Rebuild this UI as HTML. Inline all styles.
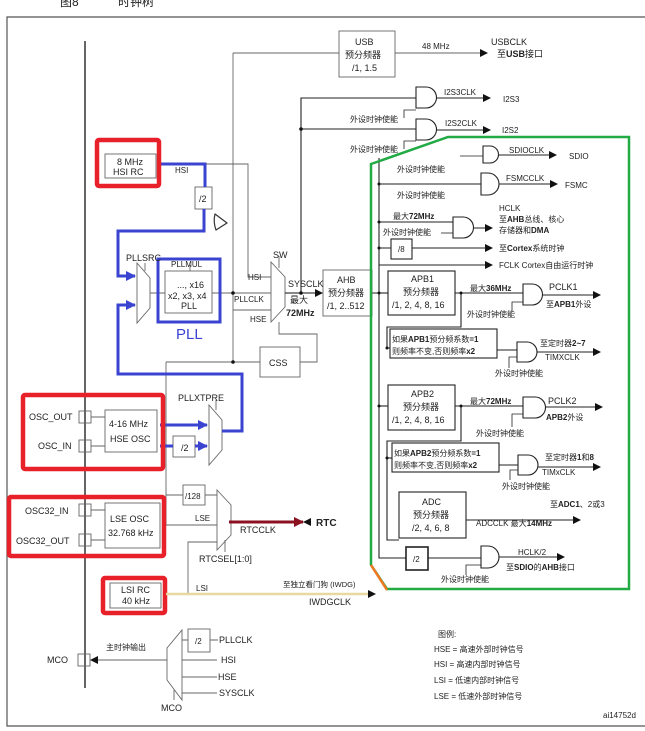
<!DOCTYPE html>
<html><head><meta charset="utf-8"><style>
html,body{margin:0;padding:0;background:#fff;width:645px;height:731px;overflow:hidden}
svg{display:block}
text{font-family:"Liberation Sans","Noto Sans CJK SC",sans-serif;font-size:9px;fill:#222}
.b{font-weight:bold}
</style></head><body>
<svg width="645" height="731" viewBox="0 0 645 731" xmlns="http://www.w3.org/2000/svg">
<defs>
<marker id="a" markerWidth="8" markerHeight="8" refX="7" refY="4" orient="auto" markerUnits="userSpaceOnUse"><path d="M0,0L8,4L0,8Z" fill="#111"/></marker>
<marker id="ab" markerWidth="10" markerHeight="10" refX="9" refY="5" orient="auto" markerUnits="userSpaceOnUse"><path d="M0,0L10,5L0,10Z" fill="#3a44d0"/></marker>
<marker id="ar" markerWidth="10" markerHeight="10" refX="9" refY="5" orient="auto" markerUnits="userSpaceOnUse"><path d="M0,0L10,5L0,10Z" fill="#8b1020"/></marker>
</defs>
<text x="60" y="6" style="font-size:12px">图8</text><text x="118" y="6" style="font-size:12px">时钟树</text>
<path d="M648,17H7V726H648" fill="none" stroke="#555" stroke-width="1.2"/>
<line x1="85" y1="41" x2="85" y2="688" stroke="#333" stroke-width="1.5"/>
<g fill="none" stroke="#666" stroke-width="0.9">
<path d="M205,164H248V277H271"/>
<path d="M233,53H339M233,53V362M212,293H271M150,293H165M233,310H271M166,362H260M166,362V525"/>
<path d="M279,322V334H317V362H300"/>
<rect x="260" y="347" width="40" height="30"/>
<path d="M271,262L285,277V307L271,322Z"/>
<line x1="279" y1="256" x2="279" y2="268"/>
<path d="M137,263L150,278V308L137,323Z"/>
<line x1="145" y1="263" x2="145" y2="271"/>
<rect x="165" y="271" width="47" height="42"/>
<line x1="190" y1="265" x2="190" y2="271"/>
<rect x="105" y="154" width="51" height="24"/>
<rect x="195" y="187" width="17" height="22"/>
<rect x="323" y="270" width="49" height="46"/>
<rect x="339" y="31" width="56" height="46"/>
<path d="M285,293H322" marker-end="url(#a)" stroke="#111"/>
<path d="M395,53H487" marker-end="url(#a)"/>
<rect x="105" y="410" width="52" height="42"/>
<rect x="79" y="411" width="12" height="12"/><rect x="79" y="440" width="12" height="12"/>
<path d="M91,417H105M91,446H105"/>
<rect x="173" y="436" width="22" height="21"/>
<path d="M209,405L222,420V450L209,465Z"/>
<line x1="216" y1="400" x2="216" y2="410"/>
<rect x="105" y="503" width="55" height="45"/>
<rect x="79" y="504" width="12" height="12"/><rect x="79" y="534" width="12" height="12"/>
<path d="M91,510H105M91,540H105"/>
<rect x="183" y="485" width="22" height="20"/>
<path d="M166,495H183M205,495H217M166,525H217M188,594V542H217"/>
<path d="M217,490L231,505V535L217,550Z"/>
<line x1="225" y1="540" x2="225" y2="552"/>
<rect x="110" y="583" width="51" height="25"/>
<rect x="78" y="654" width="12" height="12"/>
<path d="M167,660H91" marker-end="url(#a)"/>
<path d="M182,630V700L167,680V648Z"/>
<line x1="174" y1="690" x2="174" y2="700"/>
<rect x="188" y="629" width="22" height="23"/>
<path d="M182,640H188M210,640H218M182,660H217M182,677H217M182,693H217"/>
</g>
<g fill="none" stroke="#222" stroke-width="1.1">
<path d="M301,293V98H416M301,129H416"/>
<path d="M436,98H490" marker-end="url(#a)"/><path d="M436,130H490" marker-end="url(#a)"/>
<path d="M416,87h10a10.5,10.5 0 0 1 0,21h-10z"/>
<path d="M416,119h10a10.5,10.5 0 0 1 0,21h-10z"/>
<path d="M404,118V110H416M404,149V141H416" stroke-width="0.8"/>
<path d="M372,293H379M379,158V558H406"/>
<path d="M460,156H483" stroke-width="0.8"/>
<path d="M483,146h7a8.5,8.5 0 0 1 0,17h-7z"/>
<path d="M499,155H556" marker-end="url(#a)"/>
<path d="M379,184H481"/>
<path d="M481,173h7a11,11 0 0 1 0,22h-7z"/>
<path d="M499,184H557" marker-end="url(#a)"/>
<path d="M379,222H453"/>
<path d="M453,217h10a10.5,10.5 0 0 1 0,21h-10z"/>
<path d="M441,233H453" stroke-width="0.8"/>
<path d="M473,228H492" marker-end="url(#a)"/>
<path d="M379,248H391M412,248H492" marker-end="url(#a)"/>
<rect x="391" y="239" width="21" height="20"/>
<path d="M379,265H492" marker-end="url(#a)"/>
<path d="M379,293H388"/>
<rect x="388" y="271" width="67" height="44"/>
<path d="M455,293H523M461,293V327H387V348H390"/>
<path d="M523,284h9a10.5,10.5 0 0 1 0,21h-9z"/>
<path d="M512,311V302H523" stroke-width="0.8"/>
<path d="M542,295H600" marker-end="url(#a)"/>
<rect x="390" y="329" width="107" height="29"/>
<path d="M497,350H517"/>
<path d="M517,342h10a10,10 0 0 1 0,20h-10z"/>
<path d="M509,368V357H517" stroke-width="0.8"/>
<path d="M537,352H600" marker-end="url(#a)"/>
<path d="M379,406H388"/>
<rect x="388" y="385" width="67" height="45"/>
<path d="M455,406H523M461,406V441H387V540H399"/>
<path d="M523,397h12a10.5,10.5 0 0 1 0,21h-12z"/>
<path d="M512,427V414H523" stroke-width="0.8"/>
<path d="M546,407H602" marker-end="url(#a)"/>
<path d="M387,458H392"/>
<rect x="392" y="443" width="107" height="29"/>
<path d="M499,465H518"/>
<path d="M518,455h10a10,10 0 0 1 0,20h-10z"/>
<path d="M510,480V470H518" stroke-width="0.8"/>
<path d="M538,467H600" marker-end="url(#a)"/>
<rect x="399" y="492" width="67" height="46"/>
<path d="M466,520H580" marker-end="url(#a)"/>
<rect x="406" y="547" width="22" height="23" stroke-width="1.6"/>
<path d="M428,558H481"/>
<path d="M481,546h7a11,11 0 0 1 0,22h-7z"/>
<path d="M466,575V565H481" stroke-width="0.8"/>
<path d="M499,557H564" marker-end="url(#a)"/>
</g>
<g fill="#111">
<circle cx="233" cy="293" r="1.8"/><circle cx="233" cy="362" r="1.8"/><circle cx="301" cy="293" r="1.8"/><circle cx="301" cy="129" r="1.8"/>
<circle cx="379" cy="184" r="1.5"/><circle cx="379" cy="222" r="1.5"/><circle cx="379" cy="248" r="1.5"/><circle cx="379" cy="293" r="1.5"/><circle cx="379" cy="406" r="1.5"/><circle cx="461" cy="293" r="1.5"/><circle cx="461" cy="406" r="1.5"/><circle cx="387" cy="348" r="1.5"/><circle cx="387" cy="458" r="1.5"/>
</g>
<g fill="none" stroke="#3a44d0" stroke-width="3">
<path d="M159,164H205V187"/>
<path d="M204,209V231H118V276H135" marker-end="url(#ab)"/>
<path d="M222,431H242V374H118V305H135" marker-end="url(#ab)"/>
<path d="M160,425H207" marker-end="url(#ab)"/>
<path d="M160,446H173M195,446H207" marker-end="url(#ab)"/>
<rect x="158" y="259" width="62" height="63"/>
</g>
<g fill="none" stroke="#e8202a" stroke-width="4.5">
<rect x="97" y="140" width="62" height="46" rx="2"/>
<rect x="23" y="395" width="140" height="74" rx="2"/>
<rect x="9" y="497" width="155" height="59" rx="2"/>
<rect x="103" y="578" width="62" height="35" rx="2"/>
</g>
<path d="M371,164L448,137H629V589H387L371,565Z" fill="none" stroke="#22aa44" stroke-width="2.5"/>
<line x1="371" y1="565" x2="387" y2="590" stroke="#f07820" stroke-width="2.5"/>
<path d="M229,522H303" stroke="#8b1020" stroke-width="3" marker-end="url(#ar)"/>
<path d="M303,522l8,-4v8z" fill="#111"/>
<path d="M166,594H373" stroke="#e8d8a0" stroke-width="2.5"/>
<path d="M368,590l8,4l-8,4z" fill="#111"/>
<path d="M215,214L227,223L216,230Q213,222 215,214Z" fill="#fff" stroke="#333" stroke-width="1.2" stroke-linejoin="round"/>
<text x="117" y="165">8 MHz</text><text x="113" y="175">HSI RC</text>
<text x="175" y="173" style="font-size:8px">HSI</text>
<text x="199" y="202">/2</text>
<text x="126" y="261">PLLSRC</text>
<text x="171" y="267" style="font-size:8px">PLLMUL</text>
<text x="177" y="288">..., x16</text><text x="168" y="299">x2, x3, x4</text><text x="181" y="309">PLL</text>
<text x="176" y="339" style="font-size:15px;fill:#3a44d0">PLL</text>
<text x="248" y="280" style="font-size:8px">HSI</text>
<text x="234" y="302" style="font-size:8px">PLLCLK</text>
<text x="250" y="322" style="font-size:8px">HSE</text>
<text x="273" y="258">SW</text>
<text x="288" y="287">SYSCLK</text>
<text x="290" y="303">最大</text><text x="286" y="316" class="b">72MHz</text>
<text x="337" y="283">AHB</text><text x="328" y="296">预分频器</text><text x="327" y="309">/1, 2..512</text>
<text x="269" y="366">CSS</text>
<text x="355" y="45">USB</text><text x="345" y="58">预分频器</text><text x="352" y="71">/1, 1.5</text>
<text x="422" y="49" style="font-size:8px">48 MHz</text>
<text x="491" y="45">USBCLK</text><text x="497" y="57">至<tspan class="b">USB</tspan>接口</text>
<text x="444" y="95" style="font-size:8px">I2S3CLK</text><text x="503" y="102" style="font-size:8px">I2S3</text>
<text x="350" y="122" style="font-size:8px">外设时钟使能</text>
<text x="445" y="126" style="font-size:8px">I2S2CLK</text><text x="502" y="133" style="font-size:8px">I2S2</text>
<text x="350" y="152" style="font-size:8px">外设时钟使能</text>
<text x="509" y="153" style="font-size:8px">SDIOCLK</text><text x="569" y="159" style="font-size:8px">SDIO</text>
<text x="397" y="172" style="font-size:8px">外设时钟使能</text>
<text x="506" y="181" style="font-size:8px">FSMCCLK</text><text x="565" y="188" style="font-size:8px">FSMC</text>
<text x="397" y="198" style="font-size:8px">外设时钟使能</text>
<text x="393" y="219" style="font-size:8px">最大<tspan class="b">72MHz</tspan></text>
<text x="383" y="235" style="font-size:8px">外设时钟使能</text>
<text x="499" y="211" style="font-size:8px">HCLK</text><text x="499" y="222" style="font-size:8px">至<tspan class="b">AHB</tspan>总线、核心</text><text x="499" y="233" style="font-size:8px">存储器和<tspan class="b">DMA</tspan></text>
<text x="398" y="252" style="font-size:8px">/8</text>
<text x="499" y="251" style="font-size:8px">至<tspan class="b">Cortex</tspan>系统时钟</text>
<text x="499" y="268" style="font-size:8px">FCLK Cortex自由运行时钟</text>
<text x="411" y="282">APB1</text><text x="403" y="295">预分频器</text><text x="392" y="308">/1, 2, 4, 8, 16</text>
<text x="470" y="291" style="font-size:8px">最大<tspan class="b">36MHz</tspan></text>
<text x="549" y="290">PCLK1</text><text x="546" y="307" style="font-size:8px">至<tspan class="b">APB1</tspan>外设</text>
<text x="467" y="317" style="font-size:8px">外设时钟使能</text>
<text x="392" y="342" style="font-size:8px">如果<tspan class="b">APB1</tspan>预分频系数<tspan class="b">=1</tspan></text>
<text x="392" y="354" style="font-size:8px">则频率不变,否则频率<tspan class="b">x2</tspan></text>
<text x="540" y="346" style="font-size:8px">至定时器<tspan class="b">2~7</tspan></text><text x="545" y="360" style="font-size:8px">TIMXCLK</text>
<text x="495" y="376" style="font-size:8px">外设时钟使能</text>
<text x="411" y="397">APB2</text><text x="403" y="410">预分频器</text><text x="392" y="423">/1, 2, 4, 8, 16</text>
<text x="470" y="404" style="font-size:8px">最大<tspan class="b">72MHz</tspan></text>
<text x="548" y="404">PCLK2</text><text x="546" y="420" style="font-size:8px"><tspan class="b">APB2</tspan>外设</text>
<text x="476" y="436" style="font-size:8px">外设时钟使能</text>
<text x="394" y="456" style="font-size:8px">如果<tspan class="b">APB2</tspan>预分频系数<tspan class="b">=1</tspan></text>
<text x="394" y="468" style="font-size:8px">则频率不变,否则频率<tspan class="b">x2</tspan></text>
<text x="545" y="460" style="font-size:8px">至定时器<tspan class="b">1</tspan>和<tspan class="b">8</tspan></text><text x="542" y="475" style="font-size:8px">TIMxCLK</text>
<text x="502" y="489" style="font-size:8px">外设时钟使能</text>
<text x="422" y="505">ADC</text><text x="413" y="518">预分频器</text><text x="412" y="531">/2, 4, 6, 8</text>
<text x="550" y="507" style="font-size:8px">至<tspan class="b">ADC1</tspan>、2或3</text>
<text x="476" y="526" style="font-size:8px">ADCCLK 最大<tspan class="b">14MHz</tspan></text>
<text x="413" y="562" style="font-size:8px">/2</text>
<text x="518" y="555" style="font-size:8px">HCLK/2</text><text x="506" y="570" style="font-size:8px">至<tspan class="b">SDIO</tspan>的<tspan class="b">AHB</tspan>接口</text>
<text x="441" y="582" style="font-size:8px">外设时钟使能</text>
<text x="29" y="420">OSC_OUT</text><text x="38" y="449">OSC_IN</text>
<text x="109" y="427">4-16 MHz</text><text x="110" y="442">HSE OSC</text>
<text x="181" y="451">/2</text>
<text x="178" y="401">PLLXTPRE</text>
<text x="25" y="514">OSC32_IN</text><text x="16" y="544">OSC32_OUT</text>
<text x="110" y="522">LSE OSC</text><text x="108" y="536">32.768 kHz</text>
<text x="185" y="499" style="font-size:8px">/128</text>
<text x="195" y="521" style="font-size:8px">LSE</text>
<text x="240" y="533">RTCCLK</text>
<text x="316" y="526" class="b" style="font-size:10px">RTC</text>
<text x="199" y="562">RTCSEL[1:0]</text>
<text x="121" y="593">LSI RC</text><text x="122" y="604">40 kHz</text>
<text x="196" y="591" style="font-size:8px">LSI</text>
<text x="283" y="587" style="font-size:7.5px">至独立看门狗 (IWDG)</text>
<text x="309" y="605">IWDGCLK</text>
<text x="47" y="663">MCO</text>
<text x="106" y="650" style="font-size:8px">主时钟输出</text>
<text x="195" y="644" style="font-size:8px">/2</text>
<text x="219" y="643">PLLCLK</text><text x="221" y="663">HSI</text><text x="218" y="680">HSE</text><text x="219" y="696">SYSCLK</text>
<text x="161" y="711">MCO</text>
<text x="438" y="637" style="font-size:8px">图例:</text>
<text x="434" y="652" style="font-size:8px">HSE = 高速外部时钟信号</text>
<text x="434" y="667" style="font-size:8px">HSI = 高速内部时钟信号</text>
<text x="434" y="683" style="font-size:8px">LSI = 低速内部时钟信号</text>
<text x="434" y="699" style="font-size:8px">LSE = 低速外部时钟信号</text>
<text x="603" y="718" style="font-size:8px">ai14752d</text>
</svg>
</body></html>
